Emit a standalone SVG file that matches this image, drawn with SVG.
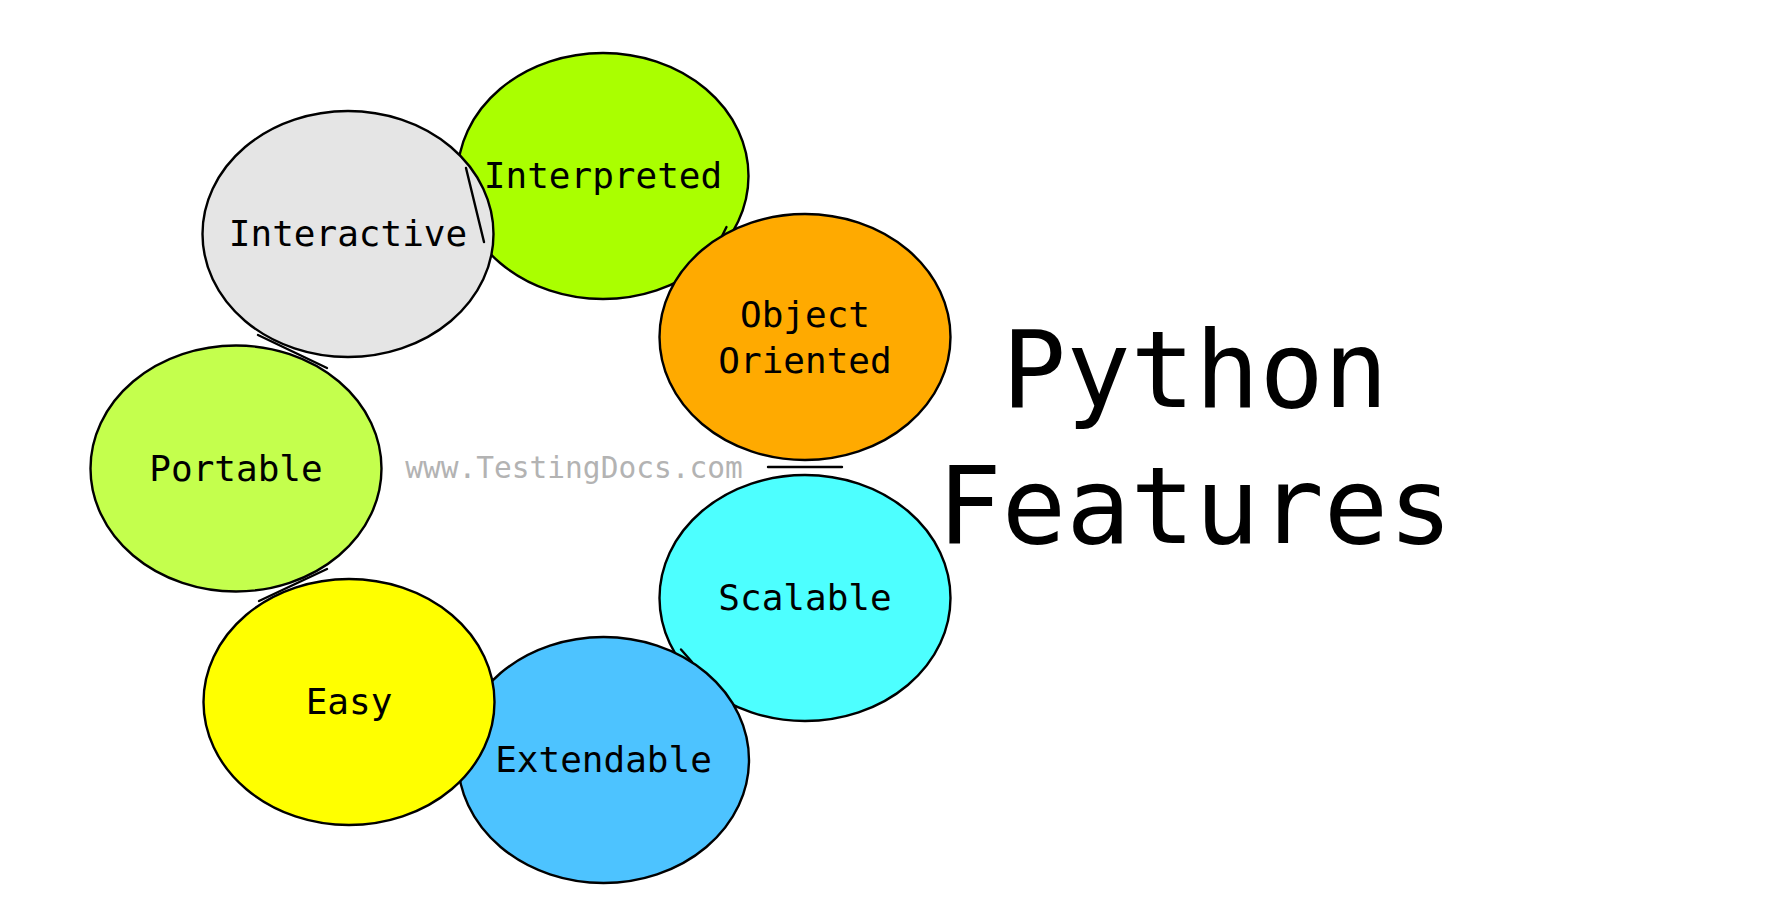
<svg xmlns="http://www.w3.org/2000/svg" width="1767" height="918" viewBox="0 0 1767 918">
<style>
.node ellipse{stroke:#000;stroke-width:2.4}
.lbl{font-family:"DejaVu Sans Mono","Liberation Mono",monospace;font-size:36px;fill:#000;text-anchor:middle}
.conn line{stroke:#000;stroke-width:2.4;stroke-linecap:round}
.title{font-family:"DejaVu Sans Mono","Liberation Mono",monospace;font-size:107px;fill:#000;text-anchor:middle}
.wm{font-family:"DejaVu Sans Mono","Liberation Mono",monospace;font-size:29.5px;fill:#b3b3b3;text-anchor:middle}
</style>
<rect width="1767" height="918" fill="#fff"/>
<g id="interpreted" class="node"><ellipse cx="603" cy="176" rx="145.5" ry="123" fill="#aaff00"/><text class="lbl" x="603" y="188">Interpreted</text></g>
<g id="object-oriented" class="node"><ellipse cx="805" cy="337" rx="145.5" ry="123" fill="#ffaa00"/><text class="lbl" x="805" y="327">Object</text><text class="lbl" x="805" y="373">Oriented</text></g>
<g id="interactive" class="node"><ellipse cx="348" cy="234" rx="145.5" ry="123" fill="#e5e5e5"/><text class="lbl" x="348" y="246">Interactive</text></g>
<g id="scalable" class="node"><ellipse cx="805" cy="598" rx="145.5" ry="123" fill="#4dffff"/><text class="lbl" x="805" y="610">Scalable</text></g>
<g id="extendable" class="node"><ellipse cx="603.5" cy="760" rx="145.5" ry="123" fill="#4dc3ff"/><text class="lbl" x="603.5" y="772">Extendable</text></g>
<g id="easy" class="node"><ellipse cx="349" cy="702" rx="145.5" ry="123" fill="#ffff00"/><text class="lbl" x="349" y="714">Easy</text></g>
<g id="portable" class="node"><ellipse cx="236" cy="468.5" rx="145.5" ry="123" fill="#c4ff4d"/><text class="lbl" x="236" y="481">Portable</text></g>
<g id="connectors" class="conn">
<line x1="466" y1="168" x2="484" y2="242"/>
<line x1="722" y1="236" x2="726.5" y2="227"/>
<line x1="768" y1="467" x2="842" y2="467"/>
<line x1="681" y1="649.5" x2="692" y2="662"/>
<line x1="259" y1="601" x2="327" y2="569"/>
<line x1="258" y1="335" x2="327" y2="368"/>
</g>
<g id="watermark"><text class="wm" x="574" y="478">www.TestingDocs.com</text></g>
<g id="title"><text class="title" x="1195" y="407">Python</text><text class="title" x="1195" y="543">Features</text></g>
</svg>
